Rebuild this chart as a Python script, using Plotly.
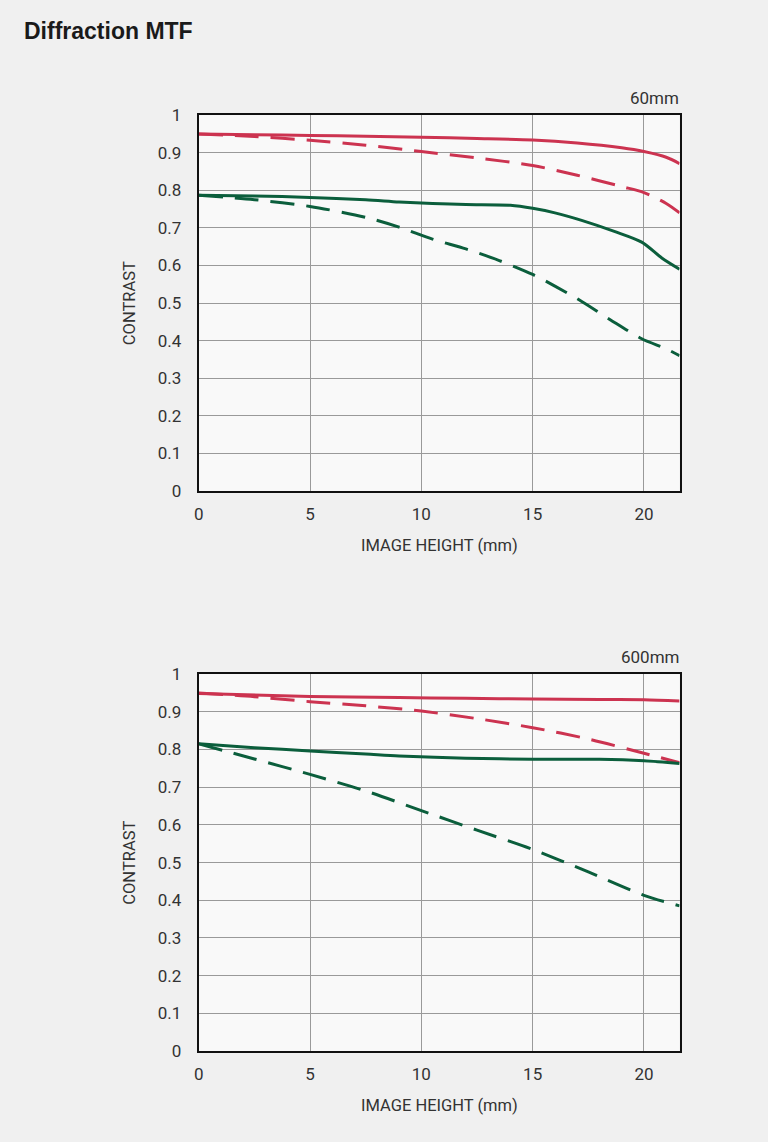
import plotly.graph_objects as go

# ---- data ----
x_60_red_solid = [0, 2.5, 5, 7.5, 10, 12.5, 15, 17, 19, 20, 21, 21.6]
y_60_red_solid = [0.950, 0.948, 0.946, 0.944, 0.941, 0.938, 0.934, 0.926, 0.913, 0.903, 0.888, 0.871]

x_60_red_dash = [0, 2.5, 5, 7.5, 10, 12.5, 15, 17, 19, 20, 21, 21.6]
y_60_red_dash = [0.950, 0.943, 0.933, 0.920, 0.903, 0.886, 0.866, 0.840, 0.810, 0.794, 0.765, 0.740]

x_60_green_solid = [0, 2.5, 5, 7.5, 9, 10.5, 12, 14, 15, 16, 17.2, 18.7, 19.9, 20.8, 21.6]
y_60_green_solid = [0.787, 0.785, 0.781, 0.775, 0.769, 0.765, 0.762, 0.760, 0.752, 0.740, 0.720, 0.690, 0.662, 0.620, 0.590]

x_60_green_dash = [0, 2.5, 5, 7.5, 9, 10.5, 12, 13.5, 15, 16, 17.1, 18.5, 19.9, 21, 21.6]
y_60_green_dash = [0.787, 0.775, 0.757, 0.728, 0.702, 0.670, 0.644, 0.613, 0.576, 0.545, 0.508, 0.455, 0.405, 0.378, 0.360]

x_600_red_solid = [0, 5, 9, 12, 15, 18, 20, 21.6]
y_600_red_solid = [0.949, 0.941, 0.938, 0.936, 0.934, 0.933, 0.932, 0.929]

x_600_red_dash = [0, 2.5, 5, 7.5, 10, 12.5, 15, 17.5, 20, 21.6]
y_600_red_dash = [0.950, 0.940, 0.927, 0.916, 0.902, 0.882, 0.858, 0.828, 0.790, 0.765]

x_600_green_solid = [0, 2.5, 5, 7.5, 9, 12, 15, 18, 20, 21.6]
y_600_green_solid = [0.815, 0.805, 0.796, 0.788, 0.783, 0.777, 0.774, 0.774, 0.770, 0.763]

x_600_green_dash = [0, 2.5, 5, 7.5, 10, 12.5, 15, 17.5, 20, 21.6]
y_600_green_dash = [0.815, 0.775, 0.734, 0.690, 0.638, 0.586, 0.535, 0.475, 0.413, 0.385]

x_ticks = [0, 5, 10, 15, 20]
y_ticks = [0, 0.1, 0.2, 0.3, 0.4, 0.5, 0.6, 0.7, 0.8, 0.9, 1]
y_tick_labels = ["0", "0.1", "0.2", "0.3", "0.4", "0.5", "0.6", "0.7", "0.8", "0.9", "1"]
x_tick_labels = ["0", "5", "10", "15", "20"]

RED = "#cc3350"
GREEN = "#0b5e3c"
DASH = "24px,12px"
FONT = "Liberation Sans, Arial, sans-serif"
FONT2 = "Roboto, Liberation Sans, sans-serif"

W, H = 768, 1142
fig = go.Figure()

def add(x, y, color, dash, xa, ya):
    fig.add_trace(go.Scatter(
        x=x, y=y, mode="lines", xaxis=xa, yaxis=ya,
        line=dict(color=color, width=3, dash=dash, shape="spline", smoothing=0.8),
        showlegend=False, hoverinfo="skip"))

add(x_60_red_solid, y_60_red_solid, RED, "solid", "x", "y")
add(x_60_red_dash, y_60_red_dash, RED, DASH, "x", "y")
add(x_60_green_solid, y_60_green_solid, GREEN, "solid", "x", "y")
add(x_60_green_dash, y_60_green_dash, GREEN, DASH, "x", "y")

add(x_600_red_solid, y_600_red_solid, RED, "solid", "x2", "y2")
add(x_600_red_dash, y_600_red_dash, RED, DASH, "x2", "y2")
add(x_600_green_solid, y_600_green_solid, GREEN, "solid", "x2", "y2")
add(x_600_green_dash, y_600_green_dash, GREEN, DASH, "x2", "y2")

# layout positions in pixels (vertical values compensated for the capture)
xl, xr = 195, 679
top1, bot1 = 107, 489.5
top2, bot2 = 676, 1059.5

def px(p):
    return p / W

def py(p):
    return 1 - p / H

xdom = [px(xl), px(xr)]
common_x = dict(range=[0, 21.6], tickvals=x_ticks, ticktext=x_tick_labels,
                showgrid=True, gridcolor="#9a9a9a", gridwidth=1,
                showline=True, linecolor="#111", linewidth=2, mirror=True,
                zeroline=False, ticks="", ticklabelstandoff=7,
                tickfont=dict(size=17, color="#333", family=FONT2), fixedrange=True)
common_y = dict(range=[0, 1], tickvals=y_ticks, ticktext=y_tick_labels,
                showgrid=True, gridcolor="#9a9a9a", gridwidth=1,
                showline=True, linecolor="#111", linewidth=2, mirror=True,
                zeroline=False, ticks="", ticklabelstandoff=12,
                tickfont=dict(size=17, color="#333", family=FONT2), fixedrange=True)

fig.update_layout(
    width=W, height=H,
    margin=dict(l=0, r=0, t=0, b=0),
    paper_bgcolor="#f0f0f0",
    plot_bgcolor="#f9f9f9",
    font=dict(family=FONT, color="#333"),
    xaxis=dict(domain=xdom, anchor="y", **common_x),
    yaxis=dict(domain=[py(bot1), py(top1)], anchor="x", **common_y),
    xaxis2=dict(domain=xdom, anchor="y2", **common_x),
    yaxis2=dict(domain=[py(bot2), py(top2)], anchor="x2", **common_y),
)

ann = []
ann.append(dict(text="<b>Diffraction MTF</b>", x=px(17), y=py(21), xref="paper", yref="paper",
                xanchor="left", yanchor="middle", showarrow=False,
                font=dict(size=23, color="#1a1a1a", family=FONT)))
for label, ytop in [("60mm", top1), ("600mm", top2)]:
    ann.append(dict(text=label, x=px(xr + 1), y=py(ytop - 5), xref="paper", yref="paper",
                    xanchor="right", yanchor="bottom", showarrow=False,
                    font=dict(size=17, color="#333", family=FONT2)))
for ytop, ybot in [(top1, bot1), (top2, bot2)]:
    ann.append(dict(text="CONTRAST", x=px(125), y=py((ytop + ybot) / 2), xref="paper", yref="paper",
                    xanchor="center", yanchor="middle", textangle=-90, showarrow=False,
                    font=dict(size=16.5, color="#333", family=FONT2)))
    ann.append(dict(text="IMAGE HEIGHT (mm)", x=px((xl + xr) / 2), y=py(ybot + 56), xref="paper", yref="paper",
                    xanchor="center", yanchor="middle", showarrow=False,
                    font=dict(size=16.5, color="#333", family=FONT2)))
fig.update_layout(annotations=ann)

fig.write_html("out.html")
